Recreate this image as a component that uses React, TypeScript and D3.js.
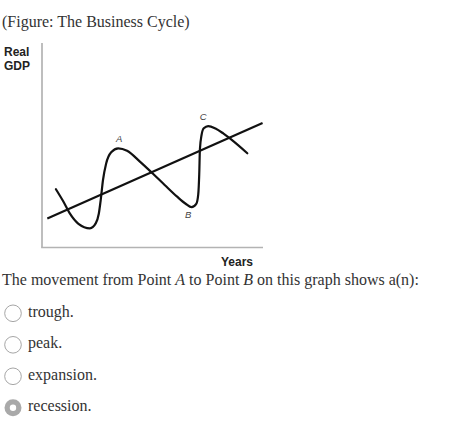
import React from "react";
import * as d3 from "d3";

// Business cycle curve (years, real GDP) in arbitrary units
const cycleYears = [6.3, 9.6, 12.5, 16.5, 21.7, 24.3, 25.7, 26.6, 27.6, 29.0, 31.3, 34.5, 38.5, 44.3, 50.1, 55.5, 61.0, 65.0, 67.7, 69.8, 70.7, 71.15, 71.45, 72.2, 73.2, 75.2, 78.5, 82.0, 86.0, 92.9];
const cycleGDP = [28.5, 22.6, 16.8, 11.6, 9.4, 11.8, 16.5, 23.5, 33.0, 41.0, 46.6, 48.5, 47.3, 42.0, 36.2, 30.6, 25.0, 21.4, 19.7, 21.3, 26.0, 36.0, 48.0, 55.0, 58.3, 59.4, 58.2, 55.8, 52.5, 46.1];

// Long-run trend line
const trendYears = [2.4, 99.8];
const trendGDP = [14.2, 60.9];

// Labelled points
const pointNames = ["A", "B", "C"];
const pointYears = [34.5, 67.7, 75.2];
const pointGDP = [48.5, 19.7, 59.4];

const axisLabels = { y: ["Real", "GDP"], x: "Years" };
const title = "(Figure: The Business Cycle)";
const options = ["trough.", "peak.", "expansion.", "recession."];
const selectedIndex = 3;

export default function App() {
  const W = 467;
  const H = 421;
  const x = d3.scaleLinear().domain([0, 100]).range([42, 263]);
  const y = d3.scaleLinear().domain([0, 100]).range([247.5, 43]);

  const cyclePts: [number, number][] = cycleYears.map((v, i) => [v, cycleGDP[i]]);
  const trendPts: [number, number][] = trendYears.map((v, i) => [v, trendGDP[i]]);

  const curve = d3
    .line<[number, number]>()
    .x((d) => x(d[0]))
    .y((d) => y(d[1]))
    .curve(d3.curveMonotoneX);
  const straight = d3
    .line<[number, number]>()
    .x((d) => x(d[0]))
    .y((d) => y(d[1]));

  const labelOffsets: Record<string, [number, number]> = {
    A: [1, -6.5],
    B: [-3.4, 11],
    C: [-5, -6],
  };

  const serif = "'Liberation Serif', 'Times New Roman', serif";
  const sans = "'Liberation Sans', Arial, sans-serif";

  return (
    <svg
      width={W}
      height={H}
      style={{ position: "absolute", left: 0, top: 0, background: "#fff" }}
    >
      <text x={2} y={26.5} fontFamily={serif} fontSize={16} fill="#333">
        {title}
      </text>

      <text fontFamily={sans} fontSize={12} fontWeight="bold" fill="#222">
        <tspan x={4} y={56}>{axisLabels.y[0]}</tspan>
        <tspan x={4} y={69.5}>{axisLabels.y[1]}</tspan>
      </text>

      {/* axes */}
      <line x1={x(0)} y1={y(100)} x2={x(0)} y2={y(0)} stroke="#b3b3b3" strokeWidth={1.7} />
      <line x1={x(0) - 0.85} y1={y(0)} x2={x(100)} y2={y(0)} stroke="#b3b3b3" strokeWidth={1.7} />

      <text x={237} y={266} textAnchor="middle" fontFamily={sans} fontSize={12} fontWeight="bold" fill="#222">
        {axisLabels.x}
      </text>

      <path d={straight(trendPts) || ""} fill="none" stroke="#111" strokeWidth={2.2} />
      <path d={curve(cyclePts) || ""} fill="none" stroke="#111" strokeWidth={2.2} strokeLinecap="round" />

      {pointNames.map((n, i) => {
        const off = labelOffsets[n];
        return (
          <text
            key={n}
            x={x(pointYears[i]) + off[0]}
            y={y(pointGDP[i]) + off[1]}
            textAnchor="middle"
            fontFamily={sans}
            fontStyle="italic"
            fontSize={9.5}
            fill="#444"
          >
            {n}
          </text>
        );
      })}

      <text x={2} y={285} fontFamily={serif} fontSize={16} fill="#333">
        The movement from Point <tspan fontStyle="italic">A</tspan> to Point{" "}
        <tspan fontStyle="italic">B</tspan> on this graph shows a(n):
      </text>

      {options.map((o, i) => {
        const cy = 313.3 + i * 31.5;
        const sel = i === selectedIndex;
        return (
          <g key={o}>
            {sel ? (
              <>
                <circle cx={13} cy={cy} r={8.5} fill="#a9a9a9" />
                <circle cx={13} cy={cy} r={3.2} fill="#fff" />
              </>
            ) : (
              <circle cx={13} cy={cy} r={8.3} fill="#fff" stroke="#a6a6a6" strokeWidth={1} />
            )}
            <text x={28} y={cy + 3.3} fontFamily={serif} fontSize={16} fill="#333">
              {o}
            </text>
          </g>
        );
      })}
    </svg>
  );
}
